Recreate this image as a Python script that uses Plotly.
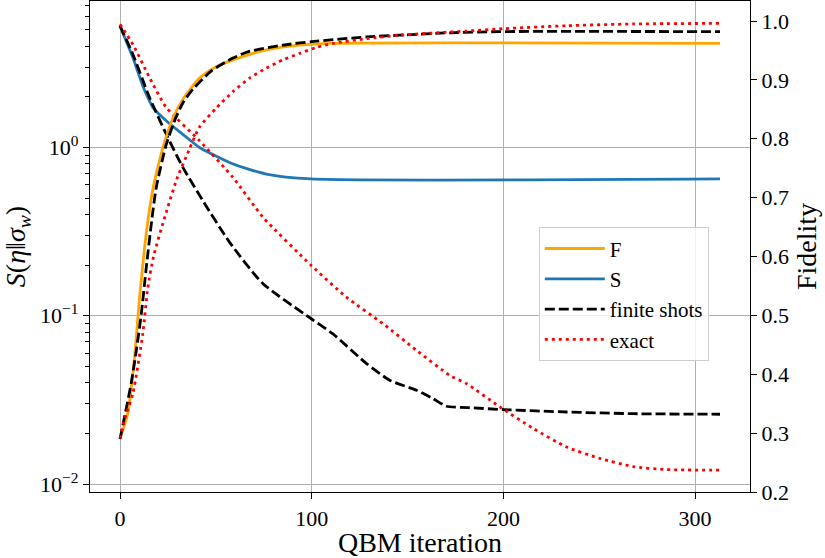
import plotly.graph_objects as go

# ---------------- data ----------------
# Relative entropy S (left, log axis)
s_iter = [0, 6.7, 11.9, 15.4, 17.1, 24.1, 34.6, 41.5, 58.7, 76.3, 99.8, 313]
s_model = [5.27, 3.42, 2.32, 1.89, 1.73, 1.44, 1.15, 1.0, 0.80, 0.695, 0.65, 0.65]

fs_iter = [0, 6.7, 15.4, 24.1, 32.8, 43.2, 57.2, 74.6, 99.8, 111.1, 128.6, 140.7,
           154.7, 163.3, 170.3, 180.8, 200.3, 233, 267.8, 313]
fs_S = [5.27, 3.58, 1.98, 1.20, 0.761, 0.483, 0.273, 0.155, 0.096, 0.078, 0.052, 0.0414,
        0.0361, 0.0322, 0.029, 0.0285, 0.0277, 0.0268, 0.0262, 0.026]

ex_iter = [0, 6.7, 15.4, 24.1, 41.5, 58.9, 74.6, 99.8, 118.1, 137.2, 154.7, 172,
           180.8, 198.2, 215.6, 233, 250.4, 267.8, 285.2, 313]
ex_S = [5.39, 4.10, 2.60, 1.73, 1.096, 0.664, 0.385, 0.199, 0.129, 0.0897, 0.0623, 0.0443,
        0.0395, 0.0287, 0.0214, 0.0166, 0.0142, 0.0127, 0.0122, 0.0121]

# Fidelity F (right axis)
f_iter = [0, 4, 7.6, 10.2, 13, 15.4, 17.5, 20, 22.3, 25, 28, 33, 41.5, 50, 59, 76.3, 93.7, 111, 313]
f_model = [0.291, 0.333, 0.429, 0.53, 0.62, 0.68, 0.72, 0.755, 0.784, 0.812, 0.838, 0.868,
           0.903, 0.922, 0.934, 0.951, 0.959, 0.962, 0.962]

ff_iter = [0, 5.8, 8.5, 11.1, 13.7, 16.5, 18.9, 24.1, 29, 33, 38, 48, 58.9, 67, 85, 100,
           128.6, 146, 172, 198, 313]
ff_F = [0.29, 0.384, 0.44, 0.502, 0.581, 0.66, 0.717, 0.79, 0.835, 0.862, 0.884, 0.916,
        0.937, 0.948, 0.959, 0.965, 0.973, 0.976, 0.980, 0.982, 0.982]

ef_iter = [0, 2.3, 6.7, 11.9, 14.5, 17.5, 24.1, 30, 34.6, 41.5, 50.2, 58.9, 67.6, 76.3, 85,
           93.7, 102.4, 111.1, 128.6, 146, 180.8, 200.3, 233, 267.8, 313]
ef_F = [0.291, 0.322, 0.367, 0.469, 0.547, 0.6, 0.675, 0.735, 0.77, 0.82, 0.852, 0.88, 0.903,
        0.92, 0.934, 0.945, 0.955, 0.962, 0.970, 0.976, 0.983, 0.987, 0.992, 0.995, 0.996]

x_ticks = [0, 100, 200, 300]
y_ticks = [0.01, 0.1, 1]
y_ticktext = ["10<sup>−2</sup>", "10<sup>−1</sup>", "10<sup>0</sup>"]
y_minor = [m * 10.0 ** e for e in (-2, -1, 0) for m in range(2, 10)]
f_ticks = [0.2, 0.3, 0.4, 0.5, 0.6, 0.7, 0.8, 0.9, 1.0]

ORANGE = "#ffa500"
BLUE = "#1f77b4"
FONT = "'Liberation Serif', 'Times New Roman', 'DejaVu Serif', serif"
LW = 2.8
SHAPE = dict(shape="spline", smoothing=0.6)

fig = go.Figure()
# left-axis traces
fig.add_trace(go.Scatter(x=s_iter, y=s_model, mode="lines", name="S", legendrank=2,
                         line=dict(color=BLUE, width=LW, **SHAPE)))
fig.add_trace(go.Scatter(x=fs_iter, y=fs_S, mode="lines", name="finite shots", legendrank=3,
                         line=dict(color="black", width=LW, dash="10px,4px", **SHAPE)))
fig.add_trace(go.Scatter(x=ex_iter, y=ex_S, mode="lines", name="exact", legendrank=4,
                         line=dict(color="red", width=LW, dash="3px,4px", **SHAPE)))
# right-axis traces
fig.add_trace(go.Scatter(x=f_iter, y=f_model, mode="lines", name="F", legendrank=1, yaxis="y2",
                         line=dict(color=ORANGE, width=LW, **SHAPE)))
fig.add_trace(go.Scatter(x=ff_iter, y=ff_F, mode="lines", showlegend=False, yaxis="y2",
                         line=dict(color="black", width=LW, dash="10px,4px", **SHAPE)))
fig.add_trace(go.Scatter(x=ef_iter, y=ef_F, mode="lines", showlegend=False, yaxis="y2",
                         line=dict(color="red", width=LW, dash="3px,4px", **SHAPE)))

axis_common = dict(showline=True, linecolor="black", linewidth=1.2, ticks="outside",
                   ticklen=6, tickwidth=1.2, tickcolor="black", zeroline=False,
                   tickfont=dict(family=FONT, size=22, color="black"))

fig.update_layout(
    width=825, height=558, autosize=False,
    margin=dict(l=90, r=75, t=1, b=66, pad=0),
    paper_bgcolor="white", plot_bgcolor="white",
    font=dict(family=FONT, color="black"),
    xaxis=dict(range=[-15.65, 328.65], tickvals=x_ticks, showgrid=True, gridcolor="#b0b0b0",
               gridwidth=1, mirror=True,
               title=dict(text="QBM iteration", font=dict(family=FONT, size=28), standoff=4),
               **axis_common),
    yaxis=dict(type="log", range=[-2.047, 0.87], tickvals=y_ticks, ticktext=y_ticktext,
               showgrid=True, gridcolor="#b0b0b0", gridwidth=1,
               minor=dict(tickvals=y_minor, ticks="outside", ticklen=3.5, tickwidth=1,
                          tickcolor="black", showgrid=False),
               title=dict(text="<i>S</i>(<i>η</i>‖<i>σ<sub>w</sub></i>)",
                          font=dict(family=FONT, size=28), standoff=6),
               **axis_common),
    yaxis2=dict(overlaying="y", side="right", range=[0.2, 1.034], tickvals=f_ticks,
                tickformat=".1f", showgrid=False,
                title=dict(text="Fidelity", font=dict(family=FONT, size=28), standoff=8),
                **axis_common),
    legend=dict(x=0.68, y=0.539, xanchor="left", yanchor="top",
                bgcolor="rgba(255,255,255,0.8)", bordercolor="#cccccc", borderwidth=1,
                font=dict(family=FONT, size=21, color="black"),
                traceorder="normal", itemwidth=60),
)

fig.write_html("out.html")
